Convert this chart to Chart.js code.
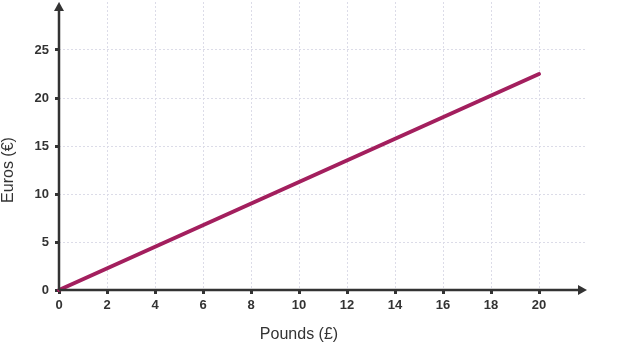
<!DOCTYPE html>
<html>
<head>
<meta charset="utf-8">
<script src="https://cdn.jsdelivr.net/npm/chart.js@4"></script>
<style>
    html, body { margin: 0; padding: 0; background: #fff; }
    #wrap { width: 624px; height: 344px; }
</style>
</head>
<body>
<div id="wrap"><canvas id="chart" width="624" height="344"></canvas></div>
<script>
// Data
const pounds = [0, 20];
const euros = [0, 22.5];
const xTicks = [0, 2, 4, 6, 8, 10, 12, 14, 16, 18, 20];
const yTicks = [0, 5, 10, 15, 20, 25];
const xTitle = 'Pounds (£)';
const yTitle = 'Euros (€)';

const AXIS = '#333333';
const GRID = '#dcdce8';
const FONT = 'Liberation Sans, Arial, sans-serif';

// axes with arrow heads, plus titles centred on the labelled range
const axesPlugin = {
    id: 'axes',
    afterDraw(chart) {
        const ctx = chart.ctx;
        const a = chart.chartArea;
        const xs = chart.scales.x;
        const ys = chart.scales.y;
        ctx.save();
        ctx.strokeStyle = AXIS;
        ctx.fillStyle = AXIS;
        ctx.lineWidth = 2.5;
        ctx.beginPath();
        ctx.moveTo(a.left, a.bottom);
        ctx.lineTo(a.left, a.top + 6);
        ctx.moveTo(a.left, a.bottom);
        ctx.lineTo(a.right - 6, a.bottom);
        ctx.stroke();
        // y arrow
        ctx.beginPath();
        ctx.moveTo(a.left, a.top);
        ctx.lineTo(a.left - 5, a.top + 9);
        ctx.lineTo(a.left + 5, a.top + 9);
        ctx.closePath();
        ctx.fill();
        // x arrow
        ctx.beginPath();
        ctx.moveTo(a.right, a.bottom);
        ctx.lineTo(a.right - 9, a.bottom - 5);
        ctx.lineTo(a.right - 9, a.bottom + 5);
        ctx.closePath();
        ctx.fill();

        // titles
        ctx.font = '16px ' + FONT;
        ctx.textAlign = 'center';
        ctx.textBaseline = 'middle';
        const xMid = (xTicks[0] + xTicks[xTicks.length - 1]) / 2;
        ctx.fillText(xTitle, xs.getPixelForValue(xMid), 335);
        const yMid = (yTicks[0] + yTicks[yTicks.length - 1]) / 2;
        ctx.translate(9, ys.getPixelForValue(yMid));
        ctx.rotate(-Math.PI / 2);
        ctx.fillText(yTitle, 0, 0);
        ctx.restore();
    }
};

const tickFont = { family: FONT, size: 13, weight: 'bold' };

new Chart(document.getElementById('chart').getContext('2d'), {
    type: 'line',
    data: {
        datasets: [{
            data: pounds.map((p, i) => ({ x: p, y: euros[i] })),
            borderColor: '#a31f5e',
            borderWidth: 4,
            borderCapStyle: 'round',
            pointRadius: 0,
            clip: false
        }]
    },
    options: {
        responsive: false,
        animation: false,
        layout: { padding: { top: 2, right: 37, left: 0, bottom: 0 } },
        plugins: { legend: { display: false }, tooltip: { enabled: false } },
        scales: {
            x: {
                type: 'linear',
                min: 0,
                max: 22,
                afterBuildTicks: s => { s.ticks = xTicks.map(v => ({ value: v })); },
                afterFit: s => { s.height = 54; s.paddingLeft = 0; s.paddingRight = 0; },
                grid: { color: GRID, lineWidth: 1, tickLength: 4, tickColor: AXIS, tickWidth: 3 },
                border: { display: false, dash: [2, 2] },
                ticks: { padding: 4, color: AXIS, font: tickFont }
            },
            y: {
                type: 'linear',
                min: 0,
                max: 30,
                afterBuildTicks: s => { s.ticks = yTicks.map(v => ({ value: v })); },
                afterFit: s => { s.width = 59; s.paddingTop = 0; s.paddingBottom = 0; },
                grid: { color: GRID, lineWidth: 1, tickLength: 4, tickColor: AXIS, tickWidth: 3 },
                border: { display: false, dash: [2, 2] },
                ticks: { padding: 6, color: AXIS, font: tickFont }
            }
        }
    },
    plugins: [axesPlugin]
});
</script>
</body>
</html>
